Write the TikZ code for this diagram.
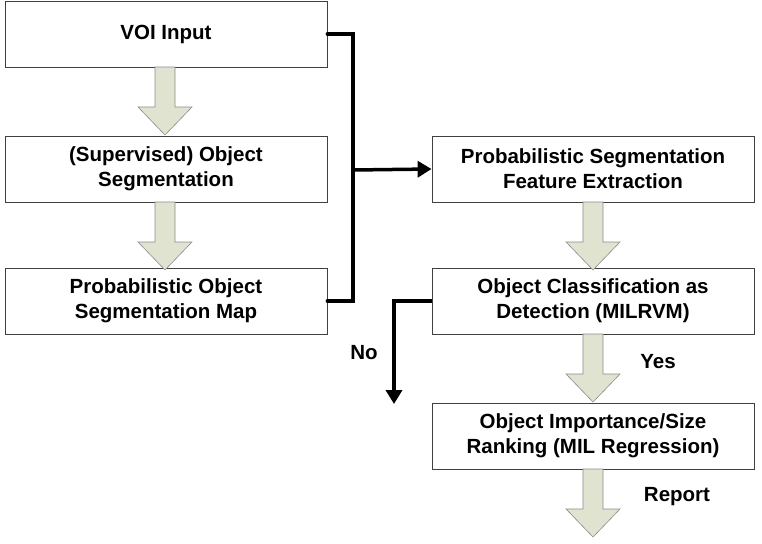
\documentclass[tikz,border=0pt]{standalone}
\usepackage{fontspec}
\setmainfont{Liberation Sans}
\usetikzlibrary{arrows.meta}
\definecolor{af}{HTML}{DFE3CF}
\begin{document}
\begin{tikzpicture}[x=1pt,y=-1pt,
  box/.style={draw=black!75,line width=0.8pt,minimum width=322pt,minimum height=66pt,inner sep=0pt,align=center,font=\fontsize{20.5}{25}\selectfont\bfseries},
  lbl/.style={font=\fontsize{20.5}{25}\selectfont\bfseries},
  conn/.style={line width=3.5pt},
  pics/bdown/.style={code={\draw[draw=black!45,fill=af,line width=0.6pt] (-10,0)--(10,0)--(10,40)--(27,40)--(0,68)--(-27,40)--(-10,40)--cycle;}}]
\useasboundingbox (0,0) rectangle (762,543);
\node[box] (a) at (166,34) {VOI Input};
\node[box] (b) at (166,169) {(Supervised) Object\\Segmentation};
\node[box] (c) at (166,301) {Probabilistic Object\\Segmentation Map};
\node[box] (d) at (593,169) {Probabilistic Segmentation\\Feature Extraction};
\node[box] (e) at (593,301) {Object Classification as\\Detection (MILRVM)};
\node[box] (f) at (593,436) {Object Importance/Size\\Ranking (MIL Regression)};
\pic at (165,67) {bdown};
\pic at (165,202) {bdown};
\pic at (593,202) {bdown};
\pic at (593,334) {bdown};
\pic at (593,469) {bdown};
\coordinate (j1) at (353,34);
\coordinate (j2) at (353,301);
\coordinate (nd) at (394,404);
\draw[conn,line cap=round] (a.east) -- (j1) -- (j2) -- (c.east);
\draw[conn,-{Triangle[length=14pt,width=16pt]}] (353,170) -- (d.west);
\draw[conn,-{Triangle[length=14pt,width=16pt]}] (e.west) -- (394,301) -- (nd);
\node[lbl] (no) at (364,353) {No};
\node[lbl] (yes) at (658,362) {Yes};
\node[lbl] (rep) at (677,497) {Report};
\end{tikzpicture}
\end{document}
